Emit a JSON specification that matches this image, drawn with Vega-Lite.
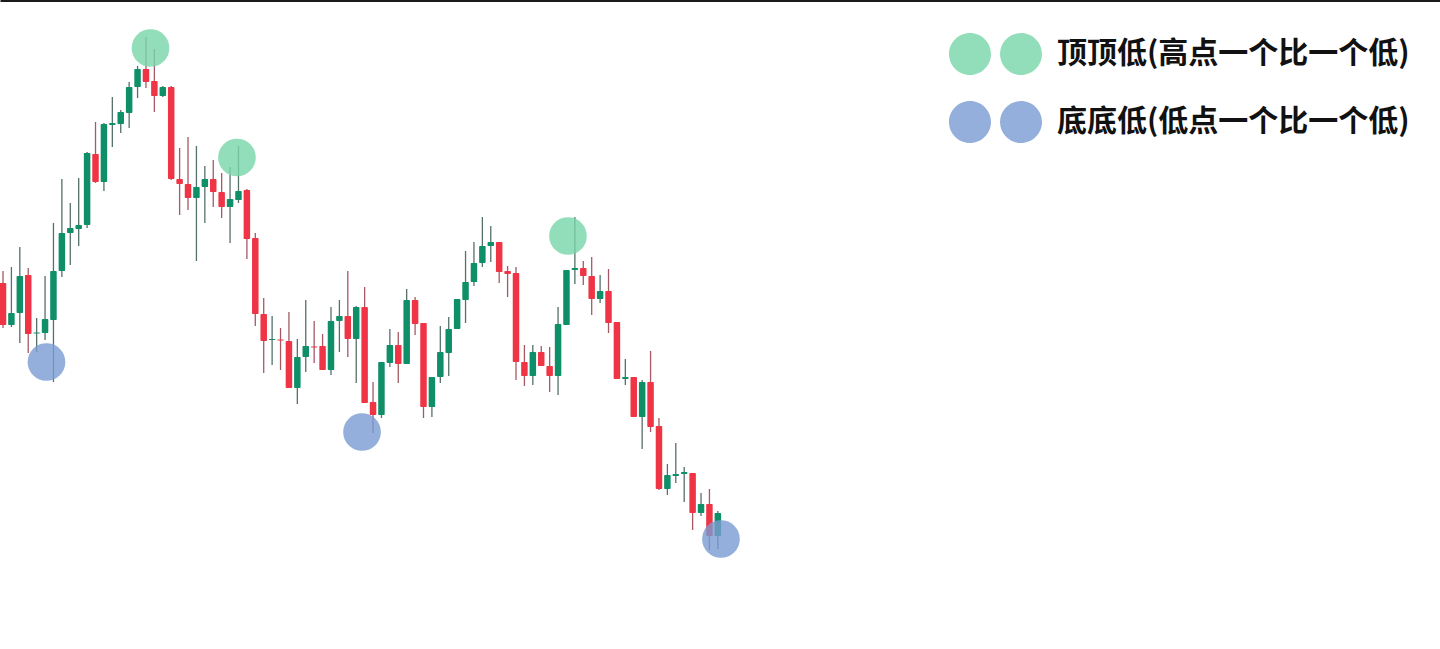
{
  "$schema": "https://vega.github.io/schema/vega-lite/v6.json",
  "width": 1440,
  "height": 649,
  "autosize": {"type": "none"},
  "padding": 0,
  "background": "#ffffff",
  "config": {"view": {"stroke": null}},
  "datasets": {
    "candles": [
      {"i":0,"o":367,"h":379,"l":322,"c":325},
      {"i":1,"o":325,"h":383,"l":323,"c":337},
      {"i":2,"o":337,"h":403,"l":307,"c":374},
      {"i":3,"o":375,"h":382,"l":297,"c":316},
      {"i":4,"o":316.5,"h":332,"l":298,"c":317.5},
      {"i":5,"o":317,"h":374,"l":310,"c":331},
      {"i":6,"o":330,"h":427,"l":268,"c":379},
      {"i":7,"o":379,"h":471,"l":373,"c":417},
      {"i":8,"o":417,"h":447,"l":385,"c":422},
      {"i":9,"o":421,"h":472,"l":404,"c":425},
      {"i":10,"o":425,"h":498,"l":422,"c":497},
      {"i":11,"o":496,"h":528,"l":467,"c":468},
      {"i":12,"o":468,"h":527,"l":459,"c":526},
      {"i":13,"o":525,"h":553,"l":503,"c":527},
      {"i":14,"o":526,"h":540,"l":517,"c":538},
      {"i":15,"o":537,"h":568,"l":522,"c":563},
      {"i":16,"o":563,"h":584,"l":552,"c":581},
      {"i":17,"o":581,"h":613,"l":562,"c":568},
      {"i":18,"o":569,"h":601,"l":538,"c":554},
      {"i":19,"o":554,"h":564,"l":553,"c":563},
      {"i":20,"o":563,"h":564,"l":470,"c":471},
      {"i":21,"o":471,"h":502,"l":435,"c":466},
      {"i":22,"o":466,"h":513,"l":440,"c":452},
      {"i":23,"o":452,"h":504,"l":389,"c":463},
      {"i":24,"o":463,"h":484,"l":427,"c":471},
      {"i":25,"o":471,"h":490,"l":443,"c":458},
      {"i":26,"o":458,"h":477,"l":432,"c":443},
      {"i":27,"o":443,"h":483,"l":407,"c":451},
      {"i":28,"o":450,"h":504,"l":447,"c":459},
      {"i":29,"o":460,"h":461,"l":391,"c":411},
      {"i":30,"o":412,"h":417,"l":324,"c":336},
      {"i":31,"o":336,"h":352,"l":277,"c":309},
      {"i":32,"o":310,"h":334,"l":285,"c":311},
      {"i":33,"o":310.5,"h":322,"l":280,"c":309.5},
      {"i":34,"o":309,"h":338,"l":262,"c":262},
      {"i":35,"o":262,"h":311,"l":246,"c":293},
      {"i":36,"o":293,"h":350,"l":278,"c":304},
      {"i":37,"o":303.5,"h":329,"l":287,"c":302.5},
      {"i":38,"o":304,"h":316,"l":280,"c":280},
      {"i":39,"o":280,"h":343,"l":275,"c":329},
      {"i":40,"o":329,"h":350,"l":298,"c":334},
      {"i":41,"o":334,"h":379,"l":293,"c":311},
      {"i":42,"o":311,"h":344,"l":267,"c":343},
      {"i":43,"o":343,"h":363,"l":247,"c":247},
      {"i":44,"o":248,"h":268,"l":217,"c":235},
      {"i":45,"o":235,"h":288,"l":232,"c":288},
      {"i":46,"o":287,"h":321,"l":283,"c":305},
      {"i":47,"o":305,"h":318,"l":267,"c":286},
      {"i":48,"o":286,"h":361,"l":286,"c":350},
      {"i":49,"o":350,"h":353,"l":315,"c":326},
      {"i":50,"o":327,"h":327,"l":232,"c":243},
      {"i":51,"o":243,"h":273,"l":233,"c":273},
      {"i":52,"o":273,"h":324,"l":267,"c":298},
      {"i":53,"o":297,"h":333,"l":274,"c":321},
      {"i":54,"o":321,"h":351,"l":321,"c":351},
      {"i":55,"o":350,"h":399,"l":327,"c":368},
      {"i":56,"o":368,"h":408,"l":364,"c":387},
      {"i":57,"o":387,"h":433,"l":383,"c":404},
      {"i":58,"o":404,"h":424,"l":388,"c":408},
      {"i":59,"o":408,"h":408,"l":367,"c":378},
      {"i":60,"o":379,"h":384,"l":353,"c":376},
      {"i":61,"o":377,"h":383,"l":270,"c":288},
      {"i":62,"o":288,"h":305,"l":264,"c":274},
      {"i":63,"o":274,"h":305,"l":265,"c":298},
      {"i":64,"o":298,"h":304,"l":284,"c":284},
      {"i":65,"o":284,"h":303,"l":258,"c":274},
      {"i":66,"o":274,"h":343,"l":255,"c":326},
      {"i":67,"o":325,"h":380,"l":325,"c":380},
      {"i":68,"o":380,"h":433,"l":366,"c":382},
      {"i":69,"o":382,"h":389,"l":365,"c":374},
      {"i":70,"o":374,"h":393,"l":335,"c":351},
      {"i":71,"o":351,"h":375,"l":347,"c":359},
      {"i":72,"o":359,"h":381,"l":317,"c":327},
      {"i":73,"o":328,"h":328,"l":271,"c":271},
      {"i":74,"o":271,"h":291,"l":265,"c":273},
      {"i":75,"o":273,"h":273,"l":233,"c":233},
      {"i":76,"o":233,"h":270,"l":201,"c":268},
      {"i":77,"o":268,"h":299,"l":218,"c":223},
      {"i":78,"o":224,"h":232,"l":160,"c":161},
      {"i":79,"o":161,"h":186,"l":155,"c":175},
      {"i":80,"o":174,"h":207,"l":167,"c":176},
      {"i":81,"o":176,"h":183,"l":148,"c":178},
      {"i":82,"o":177,"h":177,"l":120,"c":137},
      {"i":83,"o":137,"h":157,"l":134,"c":146},
      {"i":84,"o":146,"h":161,"l":100,"c":114},
      {"i":85,"o":114,"h":139,"l":101,"c":137}
    ],
    "pivots": [
      {"i":17.54,"p":602,"kind":"顶顶低(高点一个比一个低)"},
      {"i":27.82,"p":492.5,"kind":"顶顶低(高点一个比一个低)"},
      {"i":67.18,"p":414,"kind":"顶顶低(高点一个比一个低)"},
      {"i":5.17,"p":288,"kind":"底底低(低点一个比一个低)"},
      {"i":42.69,"p":218,"kind":"底底低(低点一个比一个低)"},
      {"i":85.37,"p":111,"kind":"底底低(低点一个比一个低)"}
    ]
  },
  "encoding": {
    "x": {
      "field": "i",
      "type": "quantitative",
      "scale": {"domain": [-0.357, 170.87], "nice": false, "zero": false, "padding": 0},
      "axis": {"orient": "top", "domain": true, "domainColor": "#1b1b1b", "domainWidth": 3, "ticks": false, "labels": false, "grid": false, "title": null}
    }
  },
  "layer": [
    {
      "data": {"name": "candles"},
      "mark": {"type": "rule", "strokeWidth": 1.3, "clip": true},
      "encoding": {
        "y": {"field": "l", "type": "quantitative", "scale": {"domain": [1, 650], "nice": false, "zero": false, "padding": 0}, "axis": null},
        "y2": {"field": "h"},
        "color": {"condition": {"test": "datum.c >= datum.o", "value": "#56706a"}, "value": "#a35a64"}
      }
    },
    {
      "data": {"name": "candles"},
      "mark": {"type": "bar", "size": 6.5, "cornerRadius": 1, "clip": true},
      "encoding": {
        "y": {"field": "o", "type": "quantitative", "scale": {"domain": [1, 650], "nice": false, "zero": false, "padding": 0}, "axis": null},
        "y2": {"field": "c"},
        "color": {"condition": {"test": "datum.c >= datum.o", "value": "#0f8f68"}, "value": "#ef3545"}
      }
    },
    {
      "data": {"name": "pivots"},
      "mark": {"type": "circle", "opacity": 0.8, "size": 1420},
      "encoding": {
        "y": {"field": "p", "type": "quantitative", "scale": {"domain": [1, 650], "nice": false, "zero": false, "padding": 0}, "axis": null},
        "color": {
          "field": "kind",
          "type": "nominal",
          "scale": {"domain": ["顶顶低(高点一个比一个低)", "底底低(低点一个比一个低)"], "range": ["#78d6a9", "#799bd2"]},
          "legend": {
            "title": null,
            "orient": "none",
            "legendX": 970,
            "legendY": 28.5,
            "padding": 0,
            "symbolType": "M -1.8235 0 A 0.8235 0.8235 0 1 0 -0.1765 0 A 0.8235 0.8235 0 1 0 -1.8235 0 Z M 0.1765 0 A 0.8235 0.8235 0 1 0 1.8235 0 A 0.8235 0.8235 0 1 0 0.1765 0 Z",
            "symbolSize": 2601,
            "symbolStrokeWidth": 0,
            "symbolOpacity": 0.8,
            "labelFont": "Noto Sans CJK SC",
            "labelFontSize": 30,
            "labelFontWeight": "bold",
            "labelColor": "#111111",
            "labelLimit": 0,
            "labelOffset": 36,
            "rowPadding": 21
          }
        }
      }
    }
  ]
}
